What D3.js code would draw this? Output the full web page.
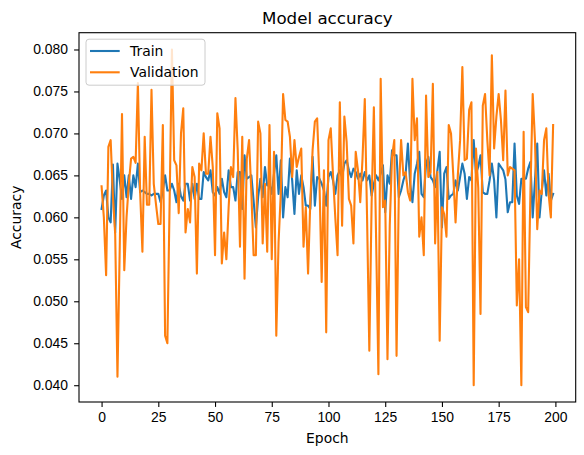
<!DOCTYPE html>
<html>
<head>
<meta charset="utf-8">
<script src="https://cdn.jsdelivr.net/npm/d3@7"></script>
<style>
    body { margin: 0; background: #fff; }
    svg { display: block; font-family: 'DejaVu Sans', sans-serif; }
    .axes text { font-size: 13.9px; fill: #000; }
    .axes line { stroke: #000; stroke-width: 1.1px; }
    .axes path { display: none; }
    .line { fill: none; stroke-width: 2.1px; stroke-linejoin: round; stroke-linecap: square; }
</style>
</head>
<body>
<script>
const margin = { top: 32.7, right: 8.3, bottom: 53, left: 79 },
    W = 584, H = 455,
    width = W - margin.left - margin.right,
    height = H - margin.top - margin.bottom;

// accuracy per epoch
const trainAcc = [
    0.0610, 0.0626, 0.0632, 0.0600, 0.0594, 0.0663, 0.0582, 0.0664, 0.0644, 0.0622,
    0.0650, 0.0624, 0.0650, 0.0622, 0.0650, 0.0636, 0.0664, 0.0630, 0.0632, 0.0630,
    0.0628, 0.0628, 0.0626, 0.0628, 0.0628, 0.0628, 0.0618, 0.0632, 0.0650, 0.0632,
    0.0632, 0.0640, 0.0632, 0.0618, 0.0640, 0.0625, 0.0620, 0.0640, 0.0640, 0.0620,
    0.0640, 0.0622, 0.0640, 0.0622, 0.0622, 0.0654, 0.0648, 0.0644, 0.0656, 0.0630,
    0.0626, 0.0636, 0.0628, 0.0646, 0.0630, 0.0624, 0.0656, 0.0636, 0.0636, 0.0620,
    0.0654, 0.0654, 0.0610, 0.0674, 0.0646, 0.0648, 0.0650, 0.0620, 0.0588, 0.0624,
    0.0646, 0.0624, 0.0660, 0.0638, 0.0640, 0.0628, 0.0652, 0.0674, 0.0628, 0.0668,
    0.0600, 0.0636, 0.0624, 0.0670, 0.0644, 0.0604, 0.0656, 0.0628, 0.0650, 0.0636,
    0.0614, 0.0614, 0.0610, 0.0672, 0.0614, 0.0648, 0.0646, 0.0640, 0.0632, 0.0614,
    0.0648, 0.0654, 0.0644, 0.0628, 0.0650, 0.0656, 0.0648, 0.0664, 0.0668, 0.0656,
    0.0648, 0.0658, 0.0654, 0.0646, 0.0652, 0.0644, 0.0654, 0.0644, 0.0650, 0.0626,
    0.0640, 0.0650, 0.0644, 0.0652, 0.0662, 0.0606, 0.0650, 0.0640, 0.0680, 0.0674,
    0.0674, 0.0624, 0.0632, 0.0644, 0.0652, 0.0688, 0.0640, 0.0618, 0.0652, 0.0664,
    0.0678, 0.0628, 0.0624, 0.0664, 0.0672, 0.0648, 0.0644, 0.0636, 0.0656, 0.0678,
    0.0588, 0.0652, 0.0660, 0.0622, 0.0626, 0.0628, 0.0644, 0.0632, 0.0648, 0.0664,
    0.0652, 0.0622, 0.0648, 0.0644, 0.0692, 0.0652, 0.0660, 0.0674, 0.0630, 0.0628,
    0.0628, 0.0644, 0.0664, 0.0644, 0.0600, 0.0664, 0.0660, 0.0656, 0.0645, 0.0606,
    0.0618, 0.0618, 0.0688, 0.0626, 0.0616, 0.0646, 0.0646, 0.0646, 0.0658, 0.0666,
    0.0600, 0.0644, 0.0688, 0.0600, 0.0632, 0.0656, 0.0626, 0.0652, 0.0620, 0.0628
];
const valAcc = [
    0.0637, 0.0600, 0.0531, 0.0684, 0.0692, 0.0625, 0.0580, 0.0410, 0.0563, 0.0723,
    0.0537, 0.0600, 0.0640, 0.0670, 0.0672, 0.0665, 0.0760, 0.0630, 0.0559, 0.0696,
    0.0615, 0.0615, 0.0752, 0.0640, 0.0615, 0.0592, 0.0592, 0.0710, 0.0459, 0.0450,
    0.0620, 0.0800, 0.0668, 0.0662, 0.0605, 0.0700, 0.0730, 0.0582, 0.0610, 0.0594,
    0.0660, 0.0648, 0.0533, 0.0664, 0.0656, 0.0700, 0.0652, 0.0652, 0.0696, 0.0660,
    0.0555, 0.0724, 0.0706, 0.0545, 0.0582, 0.0550, 0.0612, 0.0660, 0.0648, 0.0742,
    0.0680, 0.0565, 0.0696, 0.0527, 0.0670, 0.0692, 0.0630, 0.0555, 0.0555, 0.0714,
    0.0700, 0.0569, 0.0640, 0.0559, 0.0710, 0.0550, 0.0678, 0.0459, 0.0570, 0.0630,
    0.0747, 0.0716, 0.0714, 0.0696, 0.0648, 0.0692, 0.0660, 0.0672, 0.0682, 0.0565,
    0.0612, 0.0533, 0.0620, 0.0680, 0.0714, 0.0718, 0.0645, 0.0523, 0.0656, 0.0463,
    0.0692, 0.0706, 0.0650, 0.0600, 0.0555, 0.0737, 0.0590, 0.0720, 0.0690, 0.0622,
    0.0614, 0.0569, 0.0678, 0.0656, 0.0618, 0.0670, 0.0741, 0.0600, 0.0441, 0.0616,
    0.0731, 0.0573, 0.0413, 0.0765, 0.0612, 0.0620, 0.0431, 0.0590, 0.0672, 0.0692,
    0.0435, 0.0630, 0.0692, 0.0650, 0.0654, 0.0630, 0.0620, 0.0765, 0.0692, 0.0718,
    0.0577, 0.0600, 0.0555, 0.0745, 0.0648, 0.0654, 0.0759, 0.0569, 0.0654, 0.0453,
    0.0612, 0.0604, 0.0577, 0.0710, 0.0700, 0.0650, 0.0594, 0.0650, 0.0692, 0.0779,
    0.0668, 0.0670, 0.0728, 0.0737, 0.0400, 0.0682, 0.0635, 0.0485, 0.0733, 0.0747,
    0.0692, 0.0650, 0.0793, 0.0682, 0.0720, 0.0747, 0.0716, 0.0668, 0.0751, 0.0650,
    0.0660, 0.0658, 0.0656, 0.0495, 0.0550, 0.0400, 0.0702, 0.0493, 0.0487, 0.0630,
    0.0747, 0.0692, 0.0586, 0.0632, 0.0628, 0.0692, 0.0706, 0.0628, 0.0600, 0.0710
];
const seriesNames = ['Train', 'Validation'];
const seriesColors = ['#1f77b4', '#ff7f0e'];
const xTicks = [0, 25, 50, 75, 100, 125, 150, 175, 200];
const yTicks = [0.040, 0.045, 0.050, 0.055, 0.060, 0.065, 0.070, 0.075, 0.080];

const series = [trainAcc, valAcc].map((vals, k) => {
    return {
        name: seriesNames[k],
        color: seriesColors[k],
        values: vals.map((v, i) => { return { epoch: i, acc: v } })
    }
});

// matplotlib style 5% margins
const n = trainAcc.length;
const xPad = (n - 1) * 0.05;
const xScale = d3.scaleLinear()
    .domain([-xPad, n - 1 + xPad])
    .range([0, width]);
const allVals = trainAcc.concat(valAcc);
const [yMin, yMax] = d3.extent(allVals);
const yPad = (yMax - yMin) * 0.05;
const yScale = d3.scaleLinear()
    .domain([yMin - yPad, yMax + yPad])
    .range([height, 0]);

const line = d3.line()
    .x(d => { return xScale(d.epoch); })
    .y(d => { return yScale(d.acc); });

const svg = d3.select('body').append('svg')
    .attr('width', W)
    .attr('height', H)
    .append('g')
    .attr('transform', 'translate(' + margin.left + ',' + margin.top + ')');

svg.append('defs').append('clipPath')
    .attr('id', 'clip')
    .append('rect')
    .attr('width', width)
    .attr('height', height);

// lines
svg.append('g')
    .attr('clip-path', 'url(#clip)')
    .selectAll('.line')
    .data(series)
    .enter().append('path')
    .attr('class', 'line')
    .attr('d', d => { return line(d.values); })
    .style('stroke', d => { return d.color; });

// axes
svg.append('g')
    .attr('class', 'axes')
    .attr('transform', 'translate(0,' + height + ')')
    .call(d3.axisBottom(xScale).tickValues(xTicks).tickSize(4.9).tickSizeOuter(0).tickPadding(5.5));
svg.append('g')
    .attr('class', 'axes')
    .call(d3.axisLeft(yScale).tickValues(yTicks).tickFormat(d3.format('.3f')).tickSize(4.9).tickSizeOuter(0).tickPadding(6.2));

// frame
svg.append('rect')
    .attr('width', width)
    .attr('height', height)
    .style('fill', 'none')
    .style('stroke', '#000')
    .style('stroke-width', 1.1);

// labels
svg.append('text')
    .attr('x', width / 2)
    .attr('y', -8.3)
    .style('text-anchor', 'middle')
    .style('font-size', '16.7px')
    .text('Model accuracy');
svg.append('text')
    .attr('x', width / 2)
    .attr('y', height + 41)
    .style('text-anchor', 'middle')
    .style('font-size', '13.9px')
    .text('Epoch');
svg.append('text')
    .attr('transform', 'translate(' + (21 - margin.left) + ',' + (height / 2) + ') rotate(-90)')
    .style('text-anchor', 'middle')
    .style('font-size', '13.9px')
    .text('Accuracy');

// legend
const legend = svg.append('g')
    .attr('class', 'legend')
    .attr('transform', 'translate(7,6.5)');
legend.append('rect')
    .attr('width', 119)
    .attr('height', 46)
    .attr('rx', 3)
    .style('fill', '#fff')
    .style('fill-opacity', 0.8)
    .style('stroke', '#cccccc')
    .style('stroke-width', 1);
legend.selectAll('.key')
    .data(series)
    .enter().append('line')
    .attr('class', 'key')
    .attr('x1', 4)
    .attr('x2', 33.7)
    .attr('y1', (d, i) => { return 11.8 + i * 21.3 })
    .attr('y2', (d, i) => { return 11.8 + i * 21.3 })
    .style('stroke', d => { return d.color })
    .style('stroke-width', 2.1);
legend.selectAll('.name')
    .data(series)
    .enter().append('text')
    .attr('class', 'name')
    .attr('x', 44)
    .attr('y', (d, i) => { return 16.8 + i * 21.3 })
    .style('font-size', '13.9px')
    .text(d => { return d.name });
</script>
</body>
</html>
